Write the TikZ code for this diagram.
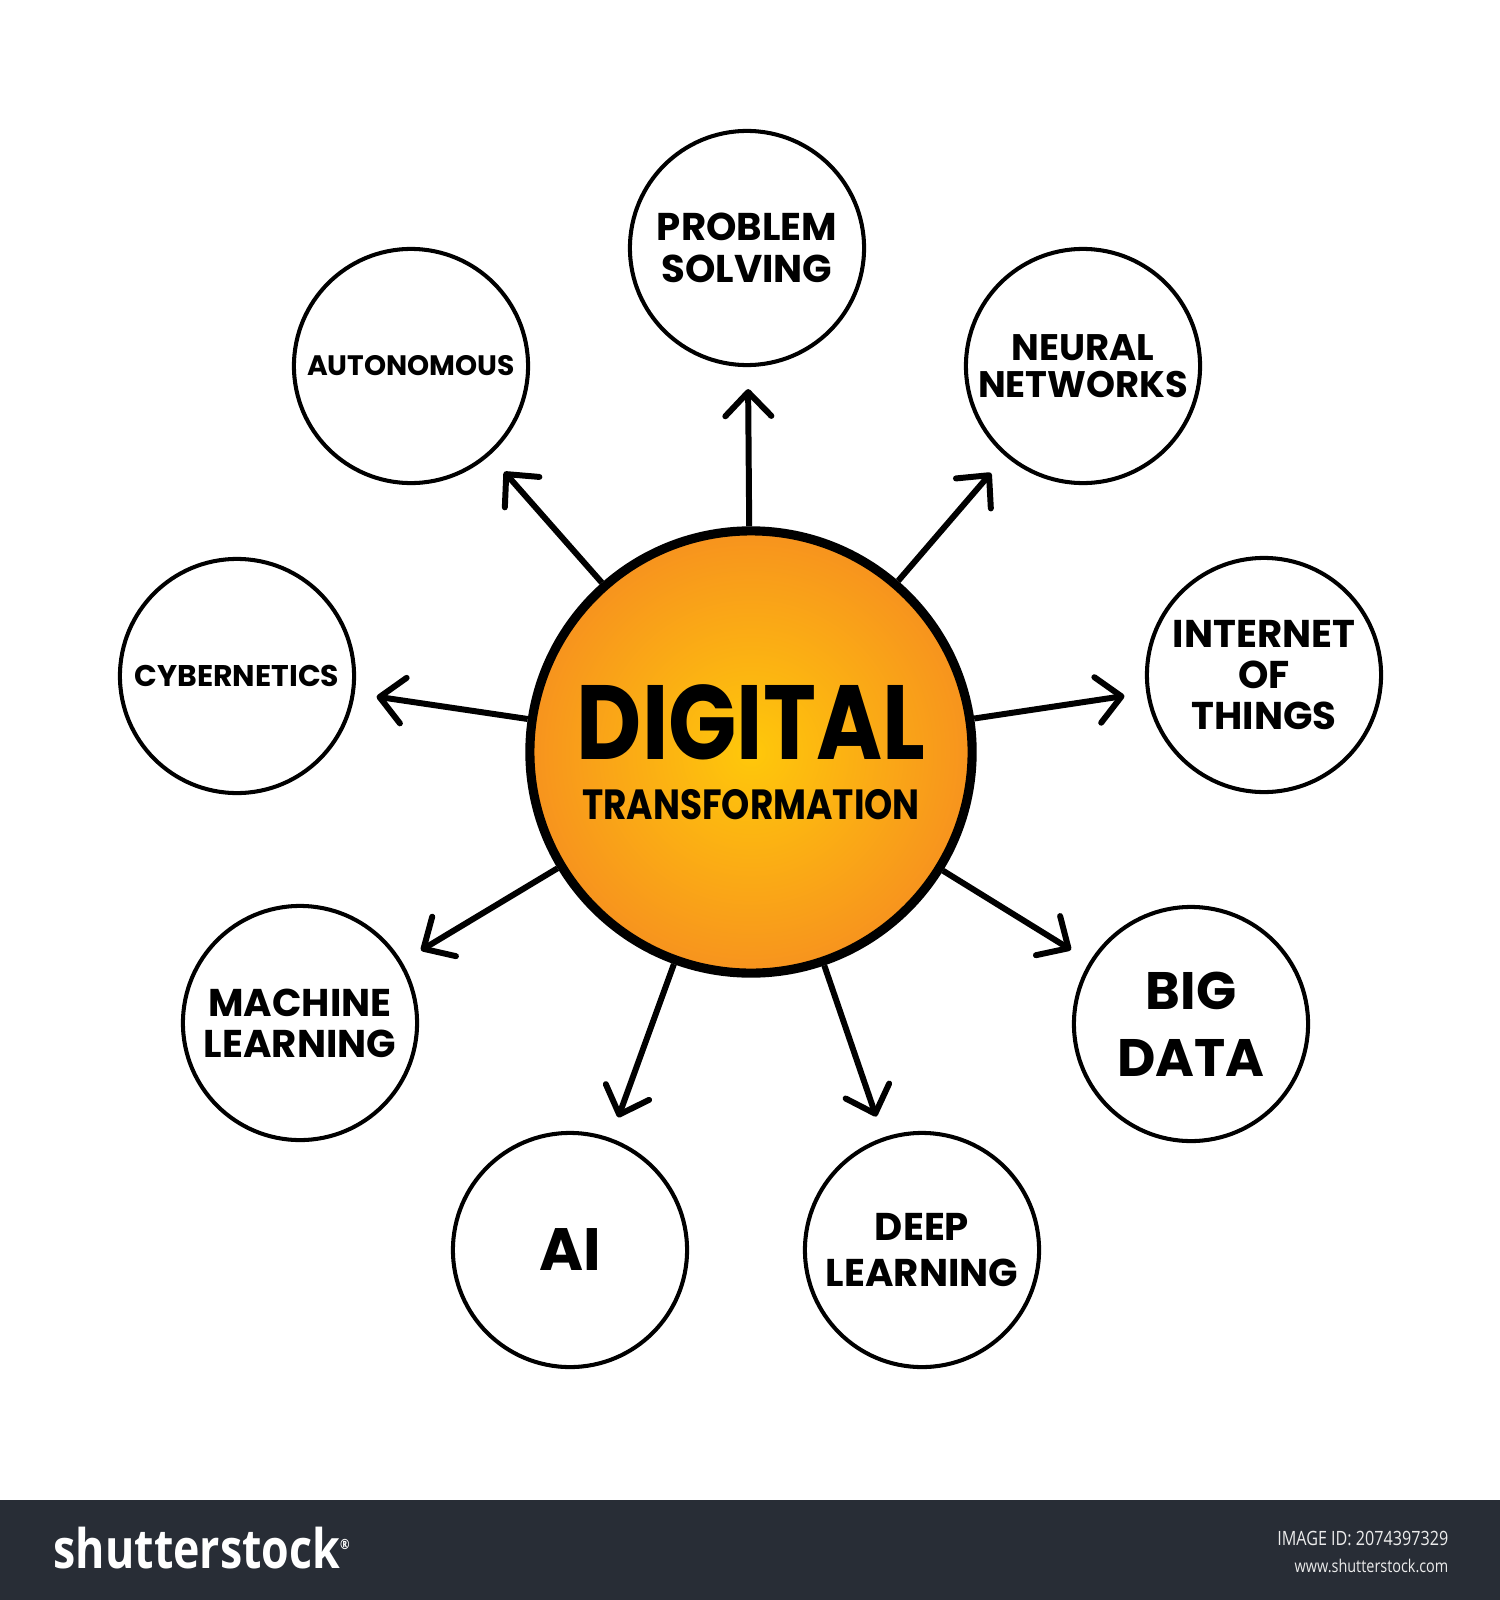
\documentclass[tikz,border=0pt]{standalone}
\usepackage{fontspec}
\setmainfont{Poppins}
\usetikzlibrary{shapes.geometric, arrows.meta, positioning}
\newfontfamily\handfont{Poppins}
\newfontfamily\hubfont[FakeStretch=0.85]{Poppins}
\newfontfamily\logofont[FakeStretch=0.82]{Open Sans}
\newcommand\topicfont[2]{\handfont\bfseries\fontsize{#1}{#2}\selectfont}
\definecolor{hubyellow}{HTML}{FFC80A}
\definecolor{huborange}{HTML}{F7931E}
\definecolor{bannergray}{HTML}{282D36}
\tikzstyle{hub} = [circle, minimum size=4.42cm, inner sep=0pt, line width=2.6pt, draw=black, inner color=hubyellow, outer color=huborange, align=center, font=\hubfont\bfseries]
\tikzstyle{topic} = [circle, minimum size=2.34cm, inner sep=0pt, line width=1.15pt, draw=black, fill=white, align=center]
\tikzstyle{arrow} = [line width=1.7pt, -{Straight Barb[length=2.4mm, width=4.6mm, round]}, shorten >=2.2mm]
\tikzstyle{bannertext} = [anchor=east, text=white!85!gray, inner sep=0pt, font=\logofont]

\begin{document}
\begin{tikzpicture}[x=0.01cm, y=-0.01cm]
    \useasboundingbox (0,0) rectangle (1500,1600);
    \node (digital_transformation) [hub] at (751,752) {\fontsize{30}{32}\selectfont DIGITAL\\[5pt]\fontsize{12}{14}\selectfont TRANSFORMATION};

    \node (problem_solving) [topic, font=\topicfont{11}{12}] at (747,248) {PROBLEM\\SOLVING};
    \node (autonomous) [topic, font=\topicfont{8}{9}] at (411,366) {AUTONOMOUS};
    \node (neural_networks) [topic, font=\topicfont{10.5}{10.5}] at (1083,366) {NEURAL\\NETWORKS};
    \node (cybernetics) [topic, font=\topicfont{8.5}{9}] at (237,676) {CYBERNETICS};
    \node (internet_of_things) [topic, font=\topicfont{11}{11.6}] at (1264,675) {INTERNET\\OF\\THINGS};
    \node (machine_learning) [topic, font=\topicfont{11}{11.6}] at (300,1023) {MACHINE\\LEARNING};
    \node (big_data) [topic, font=\topicfont{15}{19}] at (1191,1024) {BIG\\DATA};
    \node (ai) [topic, font=\topicfont{17}{18}] at (570,1250) {AI};
    \node (deep_learning) [topic, font=\topicfont{11}{13}] at (922,1250) {DEEP\\LEARNING};

    \draw [arrow] (digital_transformation) -- (problem_solving);
    \draw [arrow] (digital_transformation) -- (autonomous);
    \draw [arrow] (digital_transformation) -- (neural_networks);
    \draw [arrow] (digital_transformation) -- (cybernetics);
    \draw [arrow] (digital_transformation) -- (internet_of_things);
    \draw [arrow] (digital_transformation) -- (machine_learning);
    \draw [arrow] (digital_transformation) -- (big_data);
    \draw [arrow] (digital_transformation) -- (ai);
    \draw [arrow] (digital_transformation) -- (deep_learning);

    % footer bar
    \fill [bannergray] (0,1500) rectangle (1500,1600);
    \node (logo) [bannertext, anchor=base west, text=white, font=\logofont\bfseries] at (53,1568) {\fontsize{15.5}{16}\selectfont shutterstock\textsuperscript{\fontsize{4}{4}\selectfont ®}};
    \node (image_id) [bannertext] at (1449,1538) {\fontsize{5.6}{6}\selectfont IMAGE ID: 2074397329};
    \node (site) [bannertext] at (1449,1566) {\fontsize{5}{6}\selectfont www.shutterstock.com};
\end{tikzpicture}
\end{document}
